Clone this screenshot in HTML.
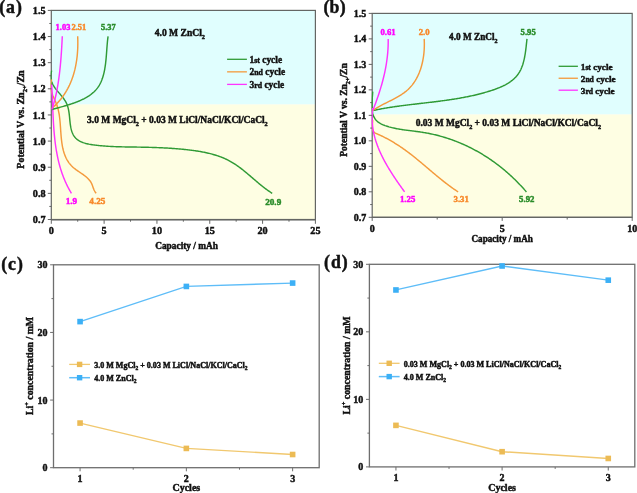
<!DOCTYPE html>
<html><head><meta charset="utf-8"><style>
html,body{margin:0;padding:0;background:#fff;width:637px;height:493px;overflow:hidden}
svg{display:block;font-family:"Liberation Serif",serif;font-weight:bold}
#wrap{width:637px;height:493px;overflow:hidden;will-change:transform}
</style></head><body><div id="wrap">
<svg width="637" height="493" viewBox="0 0 637 493">
<defs>
<clipPath id="clipA"><rect x="50.50" y="10.40" width="264.90" height="209.10"/></clipPath>
<clipPath id="clipB"><rect x="371.40" y="13.40" width="260.80" height="203.90"/></clipPath>
</defs>
<rect x="51.30" y="10.40" width="264.10" height="94.10" fill="#e0fefe"/>
<rect x="51.30" y="104.50" width="264.10" height="115.00" fill="#fefee3"/>
<rect x="51.30" y="10.40" width="264.10" height="209.10" fill="none" stroke="#646664" stroke-width="1.20"/>
<line x1="51.30" y1="219.70" x2="315.40" y2="219.70" stroke="#646664" stroke-width="1.50"/>
<g clip-path="url(#clipA)">
<path d="M51.69,70.60 L51.36,71.77 L51.11,72.90 L50.92,74.00 L50.81,75.07 L50.76,76.10 L50.77,77.11 L50.85,78.10 L50.98,79.05 L51.16,79.99 L51.40,80.90 L51.68,81.79 L52.01,82.66 L52.38,83.51 L52.78,84.34 L53.23,85.16 L53.71,85.97 L54.21,86.76 L54.75,87.55 L55.30,88.32 L55.88,89.09 L56.48,89.84 L57.09,90.60 L57.71,91.35 L58.34,92.10 L58.98,92.85 L59.62,93.59 L60.26,94.35 L60.90,95.10 L61.53,95.86 L62.15,96.63 L62.76,97.40 L63.35,98.19 L63.93,98.98 L64.48,99.79 L65.02,100.61 L65.52,101.45 L65.99,102.30 L66.43,103.18 L66.84,104.07 L67.20,104.98 L67.53,105.92 L67.83,106.87 L68.10,107.83 L68.33,108.82 L68.55,109.81 L68.73,110.82 L68.90,111.83 L69.05,112.86 L69.19,113.89 L69.31,114.93 L69.42,115.97 L69.53,117.01 L69.63,118.06 L69.73,119.10 L69.83,120.14 L69.93,121.17 L70.04,122.20 L70.16,123.22 L70.28,124.23 L70.43,125.23 L70.58,126.22 L70.76,127.20 L70.96,128.16 L71.18,129.10 L71.42,130.03 L71.69,130.93 L71.98,131.81 L72.30,132.67 L72.65,133.50 L73.04,134.31 L73.45,135.09 L73.90,135.84 L74.39,136.56 L74.92,137.24 L75.48,137.89 L76.09,138.50 L76.73,139.08 L77.42,139.63 L78.14,140.14 L78.90,140.62 L79.69,141.06 L80.51,141.48 L81.36,141.87 L82.24,142.24 L83.14,142.58 L84.07,142.89 L85.02,143.18 L85.99,143.45 L86.98,143.70 L87.98,143.93 L88.99,144.15 L90.02,144.34 L91.06,144.53 L92.11,144.70 L93.16,144.85 L94.22,145.00 L95.28,145.13 L96.34,145.26 L97.40,145.38 L98.46,145.50 L99.52,145.60 L100.57,145.71 L101.62,145.80 L102.67,145.90 L103.72,145.98 L104.76,146.06 L105.80,146.14 L106.84,146.21 L107.88,146.28 L108.91,146.35 L109.95,146.40 L110.98,146.46 L112.01,146.51 L113.04,146.56 L114.06,146.60 L115.09,146.65 L116.11,146.68 L117.13,146.72 L118.15,146.75 L119.17,146.78 L120.19,146.81 L121.20,146.84 L122.22,146.86 L123.23,146.88 L124.24,146.90 L125.25,146.92 L126.26,146.94 L127.27,146.96 L128.28,146.97 L129.29,146.99 L130.29,147.00 L131.30,147.01 L132.30,147.03 L133.31,147.04 L134.31,147.05 L135.31,147.07 L136.32,147.08 L137.32,147.10 L138.32,147.11 L139.32,147.13 L140.32,147.15 L141.32,147.17 L142.32,147.19 L143.32,147.21 L144.32,147.23 L145.31,147.25 L146.31,147.27 L147.31,147.30 L148.31,147.32 L149.31,147.35 L150.30,147.37 L151.30,147.40 L152.30,147.43 L153.29,147.46 L154.29,147.50 L155.29,147.53 L156.28,147.57 L157.28,147.61 L158.28,147.65 L159.27,147.69 L160.27,147.73 L161.26,147.78 L162.26,147.82 L163.26,147.87 L164.25,147.92 L165.25,147.97 L166.25,148.03 L167.24,148.09 L168.24,148.15 L169.24,148.21 L170.24,148.27 L171.24,148.34 L172.23,148.41 L173.23,148.48 L174.23,148.55 L175.23,148.63 L176.23,148.70 L177.23,148.79 L178.23,148.87 L179.23,148.96 L180.23,149.05 L181.23,149.14 L182.24,149.23 L183.24,149.33 L184.24,149.43 L185.25,149.54 L186.25,149.64 L187.25,149.75 L188.26,149.87 L189.27,149.99 L190.27,150.11 L191.28,150.23 L192.29,150.36 L193.29,150.49 L194.30,150.63 L195.30,150.78 L196.31,150.92 L197.31,151.08 L198.31,151.24 L199.32,151.40 L200.32,151.57 L201.32,151.75 L202.31,151.93 L203.31,152.12 L204.30,152.32 L205.29,152.52 L206.28,152.73 L207.27,152.95 L208.25,153.17 L209.23,153.41 L210.21,153.65 L211.18,153.90 L212.16,154.16 L213.12,154.43 L214.09,154.71 L215.05,154.99 L216.01,155.29 L216.96,155.60 L217.91,155.91 L218.85,156.24 L219.79,156.58 L220.72,156.93 L221.65,157.28 L222.58,157.65 L223.50,158.04 L224.41,158.43 L225.32,158.83 L226.22,159.25 L227.12,159.68 L228.01,160.12 L228.89,160.58 L229.77,161.04 L230.64,161.52 L231.50,162.02 L232.36,162.53 L233.21,163.04 L234.06,163.58 L234.90,164.12 L235.73,164.67 L236.56,165.23 L237.39,165.81 L238.21,166.39 L239.02,166.98 L239.83,167.58 L240.64,168.19 L241.44,168.80 L242.24,169.42 L243.04,170.05 L243.83,170.69 L244.62,171.33 L245.41,171.97 L246.19,172.62 L246.97,173.27 L247.75,173.93 L248.53,174.59 L249.31,175.25 L250.08,175.91 L250.86,176.58 L251.63,177.24 L252.41,177.91 L253.18,178.58 L253.95,179.24 L254.72,179.91 L255.50,180.57 L256.27,181.23 L257.04,181.89 L257.82,182.55 L258.59,183.20 L259.37,183.85 L260.15,184.49 L260.93,185.13 L261.72,185.77 L262.50,186.40 L263.29,187.02 L264.08,187.63 L264.87,188.24 L265.67,188.84 L266.47,189.43 L267.28,190.02 L268.09,190.59 L268.90,191.15 L269.72,191.71 L270.54,192.25 L271.37,192.78 L272.20,193.30" fill="none" stroke="#2f9a35" stroke-width="1.45" stroke-linejoin="round" stroke-linecap="butt" />
<path d="M51.71,79.60 L51.33,80.70 L51.03,81.79 L50.80,82.85 L50.64,83.90 L50.55,84.93 L50.53,85.94 L50.56,86.94 L50.64,87.93 L50.78,88.90 L50.96,89.86 L51.18,90.81 L51.44,91.76 L51.74,92.69 L52.06,93.62 L52.41,94.54 L52.78,95.46 L53.17,96.37 L53.57,97.28 L53.97,98.19 L54.38,99.10 L54.80,100.01 L55.20,100.92 L55.60,101.84 L55.99,102.75 L56.36,103.68 L56.71,104.61 L57.04,105.55 L57.34,106.49 L57.63,107.44 L57.90,108.39 L58.14,109.35 L58.38,110.32 L58.59,111.29 L58.79,112.27 L58.97,113.25 L59.14,114.24 L59.30,115.23 L59.44,116.23 L59.57,117.22 L59.69,118.23 L59.81,119.23 L59.91,120.24 L60.01,121.26 L60.10,122.27 L60.18,123.29 L60.27,124.31 L60.34,125.33 L60.41,126.36 L60.49,127.39 L60.56,128.41 L60.63,129.44 L60.69,130.47 L60.76,131.50 L60.84,132.52 L60.91,133.55 L60.99,134.58 L61.07,135.60 L61.16,136.62 L61.25,137.64 L61.35,138.65 L61.46,139.66 L61.57,140.67 L61.70,141.67 L61.83,142.67 L61.97,143.66 L62.13,144.65 L62.29,145.63 L62.47,146.61 L62.67,147.57 L62.87,148.53 L63.10,149.49 L63.33,150.43 L63.59,151.37 L63.86,152.29 L64.15,153.21 L64.46,154.12 L64.79,155.01 L65.14,155.90 L65.52,156.78 L65.91,157.64 L66.33,158.49 L66.77,159.33 L67.23,160.16 L67.73,160.97 L68.24,161.77 L68.79,162.56 L69.36,163.33 L69.96,164.08 L70.59,164.83 L71.25,165.55 L71.94,166.26 L72.66,166.95 L73.42,167.63 L74.20,168.29 L75.02,168.93 L75.86,169.57 L76.72,170.19 L77.59,170.80 L78.48,171.41 L79.37,172.02 L80.27,172.63 L81.17,173.23 L82.07,173.84 L82.95,174.46 L83.83,175.09 L84.69,175.73 L85.52,176.38 L86.33,177.05 L87.12,177.73 L87.87,178.44 L88.58,179.16 L89.25,179.92 L89.88,180.70 L90.46,181.51 L90.99,182.35 L91.45,183.22 L91.87,184.13 L92.24,185.07 L92.59,186.02 L92.92,186.98 L93.27,187.94 L93.62,188.90 L94.01,189.84 L94.45,190.76 L94.95,191.65 L95.53,192.50 L96.19,193.30" fill="none" stroke="#f49a3c" stroke-width="1.45" stroke-linejoin="round" stroke-linecap="butt" />
<path d="M51.68,84.60 L51.74,85.61 L51.80,86.61 L51.86,87.62 L51.91,88.62 L51.97,89.63 L52.02,90.64 L52.07,91.65 L52.12,92.66 L52.16,93.67 L52.21,94.68 L52.25,95.70 L52.30,96.71 L52.34,97.73 L52.38,98.74 L52.42,99.76 L52.46,100.77 L52.50,101.79 L52.54,102.81 L52.58,103.83 L52.62,104.85 L52.66,105.86 L52.70,106.88 L52.74,107.90 L52.78,108.92 L52.83,109.94 L52.87,110.96 L52.91,111.99 L52.95,113.01 L53.00,114.03 L53.04,115.05 L53.09,116.07 L53.14,117.09 L53.19,118.11 L53.24,119.13 L53.30,120.15 L53.35,121.17 L53.41,122.19 L53.47,123.21 L53.53,124.23 L53.60,125.25 L53.66,126.27 L53.73,127.29 L53.81,128.31 L53.88,129.32 L53.96,130.34 L54.04,131.36 L54.13,132.37 L54.21,133.39 L54.31,134.40 L54.40,135.41 L54.50,136.43 L54.60,137.44 L54.71,138.45 L54.82,139.46 L54.94,140.47 L55.06,141.48 L55.18,142.48 L55.31,143.49 L55.44,144.49 L55.58,145.50 L55.73,146.50 L55.87,147.50 L56.03,148.50 L56.19,149.50 L56.35,150.50 L56.52,151.49 L56.70,152.49 L56.88,153.48 L57.07,154.47 L57.26,155.46 L57.46,156.45 L57.67,157.43 L57.88,158.42 L58.10,159.40 L58.33,160.38 L58.56,161.36 L58.80,162.34 L59.05,163.31 L59.30,164.29 L59.56,165.26 L59.83,166.23 L60.11,167.20 L60.39,168.16 L60.68,169.13 L60.98,170.09 L61.29,171.05 L61.61,172.00 L61.93,172.96 L62.26,173.91 L62.60,174.86 L62.95,175.81 L63.31,176.75 L63.68,177.70 L64.06,178.64 L64.44,179.57 L64.84,180.51 L65.24,181.44 L65.66,182.37 L66.08,183.30 L66.51,184.22 L66.96,185.14 L67.41,186.06 L67.87,186.97 L68.35,187.89 L68.83,188.80 L69.32,189.70 L69.83,190.61 L70.35,191.51 L70.87,192.40 L71.41,193.30" fill="none" stroke="#ff33ff" stroke-width="1.45" stroke-linejoin="round" stroke-linecap="butt" />
<path d="M51.79,109.58 L52.71,109.31 L53.65,109.05 L54.59,108.78 L55.54,108.52 L56.50,108.25 L57.47,107.98 L58.44,107.71 L59.42,107.44 L60.41,107.17 L61.40,106.89 L62.39,106.61 L63.39,106.33 L64.38,106.04 L65.38,105.75 L66.38,105.45 L67.39,105.15 L68.39,104.84 L69.39,104.53 L70.39,104.21 L71.38,103.88 L72.37,103.54 L73.36,103.20 L74.35,102.85 L75.33,102.49 L76.30,102.12 L77.27,101.75 L78.23,101.36 L79.18,100.97 L80.12,100.56 L81.06,100.14 L81.98,99.71 L82.90,99.27 L83.80,98.82 L84.69,98.35 L85.57,97.88 L86.43,97.38 L87.28,96.88 L88.12,96.36 L88.94,95.83 L89.74,95.28 L90.53,94.72 L91.30,94.14 L92.05,93.54 L92.78,92.93 L93.50,92.31 L94.19,91.66 L94.86,91.00 L95.51,90.32 L96.14,89.62 L96.75,88.90 L97.33,88.16 L97.89,87.41 L98.42,86.63 L98.93,85.83 L99.42,85.02 L99.88,84.19 L100.32,83.34 L100.74,82.48 L101.14,81.60 L101.52,80.70 L101.88,79.79 L102.22,78.87 L102.54,77.93 L102.85,76.98 L103.14,76.02 L103.41,75.05 L103.67,74.07 L103.91,73.08 L104.14,72.08 L104.35,71.07 L104.56,70.05 L104.74,69.03 L104.92,67.99 L105.09,66.96 L105.24,65.91 L105.39,64.87 L105.53,63.82 L105.65,62.76 L105.77,61.70 L105.89,60.64 L105.99,59.58 L106.10,58.52 L106.19,57.46 L106.28,56.40 L106.37,55.34 L106.45,54.28 L106.53,53.23 L106.61,52.18 L106.69,51.13 L106.76,50.08 L106.84,49.04 L106.91,48.01 L106.99,46.99 L107.07,45.97 L107.15,44.95 L107.23,43.95 L107.32,42.96 L107.41,41.97 L107.51,41.00 L107.61,40.03 L107.72,39.08 L107.84,38.14 L107.96,37.22 L108.09,36.30" fill="none" stroke="#2f9a35" stroke-width="1.45" stroke-linejoin="round" stroke-linecap="butt" />
<path d="M51.86,108.48 L52.66,107.77 L53.44,107.06 L54.21,106.34 L54.97,105.61 L55.71,104.87 L56.44,104.13 L57.15,103.37 L57.85,102.61 L58.54,101.84 L59.21,101.07 L59.87,100.28 L60.52,99.49 L61.16,98.69 L61.78,97.89 L62.38,97.08 L62.98,96.26 L63.56,95.43 L64.12,94.60 L64.68,93.76 L65.22,92.91 L65.75,92.05 L66.26,91.19 L66.77,90.33 L67.26,89.46 L67.74,88.58 L68.20,87.69 L68.66,86.80 L69.10,85.91 L69.53,85.01 L69.94,84.10 L70.35,83.18 L70.74,82.27 L71.12,81.34 L71.49,80.41 L71.84,79.48 L72.19,78.54 L72.52,77.60 L72.84,76.65 L73.15,75.70 L73.45,74.74 L73.74,73.78 L74.02,72.82 L74.29,71.85 L74.54,70.87 L74.79,69.90 L75.02,68.91 L75.25,67.93 L75.46,66.94 L75.67,65.95 L75.86,64.96 L76.04,63.96 L76.22,62.96 L76.38,61.96 L76.54,60.95 L76.69,59.94 L76.82,58.93 L76.95,57.92 L77.07,56.90 L77.18,55.88 L77.28,54.86 L77.37,53.84 L77.45,52.82 L77.52,51.79 L77.59,50.76 L77.65,49.74 L77.70,48.71 L77.74,47.68 L77.77,46.64 L77.80,45.61 L77.81,44.58 L77.82,43.54 L77.82,42.51 L77.82,41.47 L77.81,40.44 L77.79,39.40 L77.76,38.37 L77.72,37.33 L77.68,36.30" fill="none" stroke="#f49a3c" stroke-width="1.45" stroke-linejoin="round" stroke-linecap="butt" />
<path d="M51.89,109.55 L52.18,108.70 L52.47,107.83 L52.75,106.96 L53.03,106.08 L53.30,105.20 L53.57,104.31 L53.83,103.41 L54.08,102.50 L54.33,101.59 L54.58,100.67 L54.82,99.75 L55.05,98.81 L55.28,97.88 L55.50,96.94 L55.72,95.99 L55.94,95.03 L56.14,94.07 L56.35,93.11 L56.55,92.14 L56.74,91.17 L56.93,90.19 L57.12,89.21 L57.30,88.22 L57.48,87.23 L57.65,86.24 L57.82,85.24 L57.98,84.24 L58.14,83.23 L58.30,82.22 L58.45,81.21 L58.60,80.20 L58.74,79.18 L58.88,78.16 L59.02,77.14 L59.15,76.12 L59.28,75.09 L59.41,74.06 L59.53,73.04 L59.65,72.01 L59.77,70.97 L59.88,69.94 L59.99,68.91 L60.10,67.87 L60.20,66.84 L60.31,65.80 L60.40,64.76 L60.50,63.73 L60.59,62.69 L60.68,61.65 L60.77,60.62 L60.86,59.58 L60.94,58.55 L61.02,57.51 L61.10,56.48 L61.17,55.45 L61.25,54.42 L61.32,53.39 L61.39,52.36 L61.46,51.34 L61.53,50.32 L61.59,49.30 L61.65,48.28 L61.71,47.26 L61.77,46.25 L61.83,45.24 L61.89,44.23 L61.94,43.23 L62.00,42.23 L62.05,41.23 L62.10,40.24 L62.15,39.25 L62.20,38.26 L62.25,37.28 L62.30,36.30" fill="none" stroke="#ff33ff" stroke-width="1.45" stroke-linejoin="round" stroke-linecap="butt" />
</g>
<line x1="47.80" y1="219.50" x2="51.30" y2="219.50" stroke="#646664" stroke-width="1.00"/>
<text x="45.60" y="223.10" font-size="10.20" text-anchor="end" fill="#111" stroke="#111" stroke-width="0.45" >0.7</text>
<line x1="49.30" y1="206.43" x2="51.30" y2="206.43" stroke="#646664" stroke-width="1.00"/>
<line x1="47.80" y1="193.36" x2="51.30" y2="193.36" stroke="#646664" stroke-width="1.00"/>
<text x="45.60" y="196.96" font-size="10.20" text-anchor="end" fill="#111" stroke="#111" stroke-width="0.45" >0.8</text>
<line x1="49.30" y1="180.29" x2="51.30" y2="180.29" stroke="#646664" stroke-width="1.00"/>
<line x1="47.80" y1="167.23" x2="51.30" y2="167.23" stroke="#646664" stroke-width="1.00"/>
<text x="45.60" y="170.83" font-size="10.20" text-anchor="end" fill="#111" stroke="#111" stroke-width="0.45" >0.9</text>
<line x1="49.30" y1="154.16" x2="51.30" y2="154.16" stroke="#646664" stroke-width="1.00"/>
<line x1="47.80" y1="141.09" x2="51.30" y2="141.09" stroke="#646664" stroke-width="1.00"/>
<text x="45.60" y="144.69" font-size="10.20" text-anchor="end" fill="#111" stroke="#111" stroke-width="0.45" >1.0</text>
<line x1="49.30" y1="128.02" x2="51.30" y2="128.02" stroke="#646664" stroke-width="1.00"/>
<line x1="47.80" y1="114.95" x2="51.30" y2="114.95" stroke="#646664" stroke-width="1.00"/>
<text x="45.60" y="118.55" font-size="10.20" text-anchor="end" fill="#111" stroke="#111" stroke-width="0.45" >1.1</text>
<line x1="49.30" y1="101.88" x2="51.30" y2="101.88" stroke="#646664" stroke-width="1.00"/>
<line x1="47.80" y1="88.81" x2="51.30" y2="88.81" stroke="#646664" stroke-width="1.00"/>
<text x="45.60" y="92.41" font-size="10.20" text-anchor="end" fill="#111" stroke="#111" stroke-width="0.45" >1.2</text>
<line x1="49.30" y1="75.74" x2="51.30" y2="75.74" stroke="#646664" stroke-width="1.00"/>
<line x1="47.80" y1="62.67" x2="51.30" y2="62.67" stroke="#646664" stroke-width="1.00"/>
<text x="45.60" y="66.27" font-size="10.20" text-anchor="end" fill="#111" stroke="#111" stroke-width="0.45" >1.3</text>
<line x1="49.30" y1="49.61" x2="51.30" y2="49.61" stroke="#646664" stroke-width="1.00"/>
<line x1="47.80" y1="36.54" x2="51.30" y2="36.54" stroke="#646664" stroke-width="1.00"/>
<text x="45.60" y="40.14" font-size="10.20" text-anchor="end" fill="#111" stroke="#111" stroke-width="0.45" >1.4</text>
<line x1="49.30" y1="23.47" x2="51.30" y2="23.47" stroke="#646664" stroke-width="1.00"/>
<line x1="47.80" y1="10.40" x2="51.30" y2="10.40" stroke="#646664" stroke-width="1.00"/>
<text x="45.60" y="14.00" font-size="10.20" text-anchor="end" fill="#111" stroke="#111" stroke-width="0.45" >1.5</text>
<line x1="51.30" y1="219.50" x2="51.30" y2="223.80" stroke="#646664" stroke-width="1.00"/>
<text x="51.30" y="233.80" font-size="10.20" text-anchor="middle" fill="#111" stroke="#111" stroke-width="0.45" >0</text>
<line x1="77.71" y1="219.50" x2="77.71" y2="221.70" stroke="#646664" stroke-width="1.00"/>
<line x1="104.12" y1="219.50" x2="104.12" y2="223.80" stroke="#646664" stroke-width="1.00"/>
<text x="104.12" y="233.80" font-size="10.20" text-anchor="middle" fill="#111" stroke="#111" stroke-width="0.45" >5</text>
<line x1="130.53" y1="219.50" x2="130.53" y2="221.70" stroke="#646664" stroke-width="1.00"/>
<line x1="156.94" y1="219.50" x2="156.94" y2="223.80" stroke="#646664" stroke-width="1.00"/>
<text x="156.94" y="233.80" font-size="10.20" text-anchor="middle" fill="#111" stroke="#111" stroke-width="0.45" >10</text>
<line x1="183.35" y1="219.50" x2="183.35" y2="221.70" stroke="#646664" stroke-width="1.00"/>
<line x1="209.76" y1="219.50" x2="209.76" y2="223.80" stroke="#646664" stroke-width="1.00"/>
<text x="209.76" y="233.80" font-size="10.20" text-anchor="middle" fill="#111" stroke="#111" stroke-width="0.45" >15</text>
<line x1="236.17" y1="219.50" x2="236.17" y2="221.70" stroke="#646664" stroke-width="1.00"/>
<line x1="262.58" y1="219.50" x2="262.58" y2="223.80" stroke="#646664" stroke-width="1.00"/>
<text x="262.58" y="233.80" font-size="10.20" text-anchor="middle" fill="#111" stroke="#111" stroke-width="0.45" >20</text>
<line x1="288.99" y1="219.50" x2="288.99" y2="221.70" stroke="#646664" stroke-width="1.00"/>
<line x1="315.40" y1="219.50" x2="315.40" y2="223.80" stroke="#646664" stroke-width="1.00"/>
<text x="315.40" y="233.80" font-size="10.20" text-anchor="middle" fill="#111" stroke="#111" stroke-width="0.45" >25</text>
<text x="63.00" y="29.80" font-size="8.45" text-anchor="middle" fill="#ff00ff" stroke="#ff00ff" stroke-width="0.45" >1.03</text>
<text x="78.90" y="29.80" font-size="8.45" text-anchor="middle" fill="#f8892a" stroke="#f8892a" stroke-width="0.45" >2.51</text>
<text x="108.40" y="29.80" font-size="8.45" text-anchor="middle" fill="#2a8c2a" stroke="#2a8c2a" stroke-width="0.45" >5.37</text>
<text x="71.40" y="203.60" font-size="9.20" text-anchor="middle" fill="#ff00ff" stroke="#ff00ff" stroke-width="0.45" >1.9</text>
<text x="97.40" y="203.60" font-size="9.20" text-anchor="middle" fill="#f8892a" stroke="#f8892a" stroke-width="0.45" >4.25</text>
<text x="273.20" y="205.20" font-size="9.20" text-anchor="middle" fill="#2a8c2a" stroke="#2a8c2a" stroke-width="0.45" >20.9</text>
<text transform="translate(154.70,36.30) scale(1,1.100)" font-size="9.60" text-anchor="start" fill="#111" stroke="#111" stroke-width="0.45" >4.0 M ZnCl<tspan font-size="6.20" dy="2.30">2</tspan></text>
<text transform="translate(87.10,123.30) scale(1,1.060)" font-size="9.50" text-anchor="start" fill="#111" stroke="#111" stroke-width="0.45" >3.0 M MgCl<tspan font-size="6.20" dy="2.30">2</tspan><tspan font-size="9.50" dy="-2.30"> + 0.03 M LiCl/NaCl/KCl/CaCl</tspan><tspan font-size="6.20" dy="2.30">2</tspan></text>
<line x1="227.10" y1="59.30" x2="246.90" y2="59.30" stroke="#2f9a35" stroke-width="1.30"/>
<text x="249.60" y="62.60" font-size="9.40" text-anchor="start" fill="#111" stroke="#111" stroke-width="0.45" >1<tspan font-size="7.8">st</tspan> cycle</text>
<line x1="227.10" y1="71.85" x2="246.90" y2="71.85" stroke="#f49a3c" stroke-width="1.30"/>
<text x="249.60" y="75.15" font-size="9.40" text-anchor="start" fill="#111" stroke="#111" stroke-width="0.45" >2<tspan font-size="7.8">nd</tspan> cycle</text>
<line x1="227.10" y1="84.40" x2="246.90" y2="84.40" stroke="#ff33ff" stroke-width="1.30"/>
<text x="249.60" y="87.70" font-size="9.40" text-anchor="start" fill="#111" stroke="#111" stroke-width="0.45" >3<tspan font-size="7.8">rd</tspan> cycle</text>
<text transform="translate(186.60,249.10) scale(1,1.080)" font-size="9.35" text-anchor="middle" fill="#111" stroke="#111" stroke-width="0.45" >Capacity / mAh</text>
<text transform="translate(24.2,119.5) rotate(-90)" font-size="10" text-anchor="middle" fill="#111" stroke="#111" stroke-width="0.45">Potential V vs. Zn<tspan font-size="6.5" dy="2.8">2+</tspan><tspan dy="-2.8">/Zn</tspan></text>
<text x="-0.80" y="12.70" font-size="17.80" text-anchor="start" fill="#111" stroke="#111" stroke-width="0.45" letter-spacing="1">(a)</text>
<rect x="372.20" y="13.40" width="260.00" height="101.10" fill="#e0fefe"/>
<rect x="372.20" y="114.50" width="260.00" height="102.80" fill="#fefee3"/>
<rect x="372.20" y="13.40" width="260.00" height="203.90" fill="none" stroke="#646664" stroke-width="1.20"/>
<line x1="372.20" y1="217.40" x2="632.20" y2="217.40" stroke="#646664" stroke-width="1.40"/>
<g clip-path="url(#clipB)">
<path d="M372.72,91.59 L372.66,92.57 L372.59,93.57 L372.52,94.59 L372.44,95.61 L372.36,96.65 L372.29,97.70 L372.21,98.75 L372.15,99.81 L372.08,100.87 L372.03,101.94 L371.99,103.00 L371.96,104.06 L371.95,105.11 L371.96,106.16 L371.98,107.20 L372.03,108.23 L372.11,109.24 L372.20,110.24 L372.33,111.22 L372.49,112.19 L372.68,113.13 L372.91,114.05 L373.17,114.94 L373.48,115.81 L373.82,116.65 L374.21,117.46 L374.64,118.23 L375.12,118.97 L375.65,119.67 L376.24,120.34 L376.87,120.96 L377.54,121.56 L378.26,122.12 L379.01,122.65 L379.80,123.14 L380.62,123.61 L381.47,124.06 L382.34,124.48 L383.24,124.87 L384.15,125.24 L385.08,125.60 L386.03,125.93 L386.99,126.25 L387.95,126.55 L388.91,126.84 L389.89,127.11 L390.86,127.37 L391.84,127.62 L392.82,127.85 L393.81,128.08 L394.80,128.29 L395.80,128.50 L396.80,128.69 L397.80,128.88 L398.80,129.06 L399.81,129.23 L400.82,129.39 L401.83,129.55 L402.84,129.70 L403.85,129.85 L404.87,129.99 L405.89,130.12 L406.91,130.26 L407.93,130.39 L408.95,130.52 L409.97,130.64 L410.99,130.77 L412.01,130.90 L413.03,131.02 L414.05,131.15 L415.08,131.28 L416.10,131.41 L417.12,131.54 L418.14,131.67 L419.15,131.81 L420.17,131.96 L421.18,132.11 L422.20,132.26 L423.21,132.42 L424.22,132.59 L425.22,132.76 L426.23,132.94 L427.23,133.12 L428.23,133.31 L429.23,133.51 L430.23,133.71 L431.22,133.92 L432.21,134.14 L433.20,134.36 L434.19,134.59 L435.18,134.82 L436.16,135.06 L437.14,135.31 L438.12,135.56 L439.10,135.82 L440.07,136.08 L441.04,136.35 L442.01,136.62 L442.98,136.90 L443.95,137.19 L444.91,137.48 L445.87,137.78 L446.83,138.09 L447.78,138.40 L448.74,138.71 L449.69,139.03 L450.64,139.36 L451.58,139.69 L452.53,140.03 L453.47,140.37 L454.41,140.72 L455.35,141.08 L456.28,141.44 L457.21,141.81 L458.14,142.18 L459.07,142.56 L459.99,142.94 L460.91,143.33 L461.83,143.72 L462.75,144.12 L463.66,144.52 L464.57,144.93 L465.48,145.35 L466.39,145.77 L467.29,146.20 L468.19,146.63 L469.09,147.06 L469.98,147.51 L470.88,147.95 L471.76,148.40 L472.65,148.86 L473.54,149.33 L474.42,149.79 L475.30,150.27 L476.17,150.74 L477.04,151.23 L477.91,151.72 L478.78,152.21 L479.65,152.71 L480.51,153.21 L481.37,153.72 L482.22,154.23 L483.07,154.75 L483.92,155.28 L484.77,155.80 L485.62,156.34 L486.46,156.88 L487.29,157.42 L488.13,157.97 L488.96,158.52 L489.79,159.08 L490.62,159.64 L491.44,160.21 L492.26,160.78 L493.08,161.36 L493.89,161.94 L494.70,162.52 L495.51,163.12 L496.31,163.71 L497.11,164.31 L497.91,164.92 L498.70,165.53 L499.50,166.14 L500.28,166.76 L501.07,167.38 L501.85,168.01 L502.63,168.64 L503.41,169.28 L504.18,169.92 L504.95,170.57 L505.71,171.22 L506.47,171.87 L507.23,172.53 L507.99,173.19 L508.74,173.86 L509.49,174.53 L510.23,175.21 L510.98,175.89 L511.71,176.57 L512.45,177.26 L513.18,177.95 L513.91,178.65 L514.63,179.35 L515.35,180.06 L516.07,180.77 L516.79,181.48 L517.50,182.20 L518.20,182.92 L518.91,183.65 L519.61,184.38 L520.30,185.12 L521.00,185.85 L521.68,186.60 L522.37,187.34 L523.05,188.09 L523.73,188.85 L524.40,189.61 L525.07,190.37 L525.74,191.13 L526.41,191.90" fill="none" stroke="#2f9a35" stroke-width="1.45" stroke-linejoin="round" stroke-linecap="butt" />
<path d="M372.70,120.00 L372.65,121.02 L372.58,122.09 L372.49,123.19 L372.41,124.31 L372.35,125.44 L372.32,126.54 L372.36,127.62 L372.46,128.65 L372.65,129.63 L372.95,130.52 L373.37,131.32 L373.92,132.01 L374.61,132.59 L375.41,133.08 L376.29,133.51 L377.20,133.91 L378.12,134.32 L379.04,134.73 L379.95,135.14 L380.86,135.57 L381.77,136.00 L382.67,136.44 L383.57,136.88 L384.47,137.34 L385.36,137.80 L386.25,138.26 L387.14,138.73 L388.02,139.21 L388.90,139.70 L389.78,140.19 L390.65,140.68 L391.52,141.19 L392.39,141.70 L393.25,142.21 L394.11,142.73 L394.97,143.26 L395.82,143.79 L396.67,144.32 L397.52,144.86 L398.36,145.41 L399.20,145.96 L400.04,146.52 L400.87,147.08 L401.70,147.65 L402.53,148.22 L403.36,148.80 L404.18,149.38 L405.00,149.96 L405.81,150.55 L406.63,151.15 L407.44,151.75 L408.24,152.35 L409.05,152.95 L409.85,153.56 L410.65,154.18 L411.44,154.79 L412.24,155.41 L413.03,156.04 L413.82,156.66 L414.60,157.29 L415.39,157.92 L416.17,158.56 L416.95,159.19 L417.73,159.83 L418.51,160.47 L419.29,161.11 L420.07,161.76 L420.84,162.41 L421.61,163.05 L422.39,163.70 L423.16,164.35 L423.93,165.00 L424.70,165.65 L425.47,166.31 L426.24,166.96 L427.01,167.61 L427.78,168.27 L428.55,168.92 L429.32,169.58 L430.09,170.23 L430.87,170.89 L431.64,171.54 L432.41,172.19 L433.18,172.84 L433.95,173.50 L434.73,174.15 L435.50,174.79 L436.28,175.44 L437.06,176.09 L437.84,176.73 L438.62,177.38 L439.40,178.02 L440.19,178.66 L440.97,179.29 L441.76,179.93 L442.55,180.56 L443.34,181.19 L444.14,181.81 L444.93,182.44 L445.73,183.06 L446.54,183.67 L447.34,184.29 L448.15,184.90 L448.96,185.50 L449.77,186.11 L450.59,186.71 L451.41,187.30 L452.24,187.89 L453.06,188.48 L453.89,189.06 L454.73,189.63 L455.57,190.21 L456.41,190.77 L457.26,191.33 L458.11,191.89" fill="none" stroke="#f49a3c" stroke-width="1.45" stroke-linejoin="round" stroke-linecap="butt" />
<path d="M372.72,108.00 L372.58,109.04 L372.46,110.08 L372.35,111.12 L372.26,112.15 L372.18,113.19 L372.13,114.22 L372.08,115.24 L372.06,116.27 L372.04,117.29 L372.05,118.30 L372.06,119.32 L372.10,120.33 L372.14,121.34 L372.20,122.35 L372.28,123.35 L372.37,124.35 L372.47,125.35 L372.59,126.35 L372.72,127.34 L372.86,128.33 L373.02,129.32 L373.19,130.30 L373.37,131.29 L373.56,132.27 L373.77,133.24 L373.99,134.22 L374.22,135.19 L374.46,136.16 L374.71,137.12 L374.98,138.08 L375.25,139.05 L375.54,140.00 L375.83,140.96 L376.14,141.91 L376.46,142.86 L376.79,143.81 L377.12,144.75 L377.47,145.69 L377.83,146.63 L378.19,147.57 L378.57,148.50 L378.95,149.43 L379.34,150.36 L379.74,151.28 L380.15,152.21 L380.57,153.13 L381.00,154.05 L381.43,154.96 L381.87,155.87 L382.32,156.78 L382.77,157.69 L383.23,158.59 L383.70,159.50 L384.18,160.40 L384.66,161.29 L385.15,162.19 L385.64,163.08 L386.14,163.97 L386.65,164.85 L387.16,165.74 L387.67,166.62 L388.19,167.50 L388.72,168.38 L389.25,169.25 L389.78,170.12 L390.32,170.99 L390.86,171.86 L391.41,172.72 L391.96,173.58 L392.51,174.44 L393.07,175.30 L393.63,176.15 L394.19,177.00 L394.76,177.85 L395.33,178.70 L395.90,179.54 L396.47,180.38 L397.04,181.22 L397.62,182.06 L398.20,182.89 L398.78,183.72 L399.36,184.55 L399.94,185.38 L400.52,186.20 L401.10,187.02 L401.68,187.84 L402.27,188.66 L402.85,189.47 L403.43,190.29 L404.01,191.10 L404.59,191.90" fill="none" stroke="#ff33ff" stroke-width="1.45" stroke-linejoin="round" stroke-linecap="butt" />
<path d="M372.80,110.58 L373.77,110.37 L374.75,110.17 L375.72,109.96 L376.70,109.77 L377.68,109.57 L378.65,109.38 L379.63,109.19 L380.62,109.01 L381.60,108.83 L382.58,108.65 L383.56,108.48 L384.55,108.31 L385.53,108.14 L386.52,107.97 L387.51,107.81 L388.50,107.65 L389.49,107.49 L390.48,107.33 L391.47,107.18 L392.46,107.03 L393.45,106.88 L394.44,106.74 L395.44,106.59 L396.43,106.45 L397.43,106.31 L398.42,106.17 L399.42,106.04 L400.42,105.90 L401.41,105.77 L402.41,105.64 L403.41,105.51 L404.41,105.38 L405.41,105.25 L406.41,105.13 L407.41,105.00 L408.41,104.88 L409.41,104.76 L410.41,104.63 L411.42,104.51 L412.42,104.39 L413.42,104.27 L414.43,104.16 L415.43,104.04 L416.43,103.92 L417.44,103.80 L418.44,103.69 L419.45,103.57 L420.45,103.45 L421.46,103.34 L422.46,103.22 L423.47,103.10 L424.47,102.99 L425.48,102.87 L426.48,102.75 L427.49,102.64 L428.49,102.52 L429.50,102.40 L430.50,102.28 L431.51,102.16 L432.51,102.04 L433.52,101.92 L434.53,101.79 L435.53,101.67 L436.54,101.55 L437.54,101.42 L438.54,101.29 L439.55,101.16 L440.55,101.03 L441.56,100.90 L442.56,100.77 L443.56,100.63 L444.57,100.50 L445.57,100.36 L446.57,100.22 L447.57,100.08 L448.58,99.93 L449.58,99.79 L450.58,99.64 L451.58,99.49 L452.58,99.33 L453.58,99.18 L454.58,99.02 L455.57,98.86 L456.57,98.69 L457.57,98.53 L458.56,98.36 L459.56,98.18 L460.56,98.01 L461.55,97.83 L462.54,97.65 L463.54,97.46 L464.53,97.28 L465.52,97.08 L466.51,96.89 L467.50,96.69 L468.49,96.49 L469.48,96.28 L470.47,96.07 L471.46,95.86 L472.44,95.64 L473.43,95.42 L474.41,95.19 L475.39,94.96 L476.38,94.73 L477.36,94.49 L478.34,94.25 L479.32,94.00 L480.29,93.75 L481.27,93.49 L482.25,93.23 L483.22,92.96 L484.19,92.69 L485.17,92.42 L486.14,92.13 L487.11,91.85 L488.08,91.56 L489.05,91.26 L490.01,90.96 L490.98,90.65 L491.94,90.33 L492.90,90.01 L493.86,89.69 L494.81,89.35 L495.76,89.01 L496.71,88.66 L497.65,88.30 L498.58,87.93 L499.50,87.55 L500.42,87.16 L501.33,86.76 L502.23,86.35 L503.13,85.93 L504.01,85.49 L504.88,85.05 L505.74,84.59 L506.59,84.11 L507.42,83.62 L508.25,83.12 L509.06,82.60 L509.85,82.06 L510.63,81.51 L511.39,80.94 L512.14,80.36 L512.87,79.76 L513.58,79.14 L514.28,78.50 L514.95,77.84 L515.61,77.16 L516.24,76.46 L516.86,75.74 L517.45,75.00 L518.02,74.24 L518.57,73.45 L519.10,72.65 L519.60,71.82 L520.08,70.96 L520.53,70.09 L520.96,69.19 L521.36,68.27 L521.75,67.34 L522.12,66.38 L522.46,65.41 L522.79,64.43 L523.09,63.43 L523.38,62.42 L523.65,61.40 L523.91,60.37 L524.15,59.33 L524.38,58.29 L524.59,57.24 L524.79,56.18 L524.98,55.13 L525.15,54.07 L525.32,53.01 L525.48,51.95 L525.62,50.89 L525.76,49.84 L525.89,48.79 L526.02,47.75 L526.14,46.72 L526.25,45.70 L526.36,44.68 L526.47,43.68 L526.58,42.69 L526.68,41.72 L526.78,40.76 L526.88,39.82 L526.99,38.89" fill="none" stroke="#2f9a35" stroke-width="1.45" stroke-linejoin="round" stroke-linecap="butt" />
<path d="M372.77,110.55 L373.57,109.99 L374.38,109.44 L375.20,108.91 L376.04,108.38 L376.89,107.87 L377.75,107.36 L378.61,106.86 L379.49,106.37 L380.37,105.88 L381.26,105.40 L382.16,104.92 L383.06,104.45 L383.97,103.98 L384.88,103.52 L385.80,103.05 L386.72,102.59 L387.63,102.13 L388.55,101.67 L389.47,101.21 L390.39,100.74 L391.31,100.28 L392.22,99.81 L393.14,99.34 L394.04,98.86 L394.95,98.38 L395.84,97.89 L396.74,97.40 L397.62,96.90 L398.50,96.39 L399.37,95.87 L400.22,95.35 L401.07,94.81 L401.91,94.26 L402.74,93.70 L403.55,93.13 L404.35,92.55 L405.14,91.95 L405.91,91.34 L406.67,90.71 L407.41,90.07 L408.13,89.41 L408.83,88.73 L409.52,88.04 L410.19,87.33 L410.84,86.60 L411.48,85.86 L412.10,85.11 L412.70,84.34 L413.29,83.56 L413.85,82.76 L414.41,81.95 L414.94,81.12 L415.46,80.29 L415.96,79.44 L416.45,78.58 L416.92,77.71 L417.38,76.82 L417.82,75.93 L418.24,75.03 L418.65,74.11 L419.04,73.19 L419.42,72.26 L419.78,71.32 L420.13,70.37 L420.47,69.41 L420.78,68.44 L421.09,67.47 L421.38,66.49 L421.65,65.51 L421.91,64.52 L422.16,63.52 L422.39,62.52 L422.61,61.51 L422.82,60.50 L423.01,59.48 L423.19,58.46 L423.36,57.44 L423.51,56.41 L423.65,55.38 L423.77,54.35 L423.89,53.32 L423.99,52.29 L424.07,51.25 L424.15,50.22 L424.21,49.18 L424.26,48.14 L424.30,47.11 L424.33,46.07 L424.34,45.04 L424.34,44.01 L424.34,42.98 L424.32,41.95 L424.28,40.93 L424.24,39.91 L424.19,38.89" fill="none" stroke="#f49a3c" stroke-width="1.45" stroke-linejoin="round" stroke-linecap="butt" />
<path d="M372.78,110.59 L373.15,109.64 L373.52,108.68 L373.89,107.72 L374.25,106.77 L374.62,105.81 L374.98,104.85 L375.33,103.88 L375.69,102.92 L376.04,101.96 L376.38,100.99 L376.73,100.03 L377.07,99.06 L377.40,98.09 L377.74,97.13 L378.07,96.16 L378.39,95.18 L378.72,94.21 L379.04,93.24 L379.35,92.27 L379.66,91.29 L379.97,90.31 L380.27,89.34 L380.57,88.36 L380.86,87.38 L381.15,86.40 L381.44,85.42 L381.72,84.43 L381.99,83.45 L382.26,82.46 L382.53,81.48 L382.79,80.49 L383.05,79.50 L383.30,78.51 L383.54,77.52 L383.78,76.53 L384.02,75.53 L384.25,74.54 L384.47,73.54 L384.69,72.55 L384.90,71.55 L385.11,70.55 L385.31,69.55 L385.50,68.54 L385.69,67.54 L385.88,66.54 L386.05,65.53 L386.22,64.52 L386.39,63.51 L386.54,62.50 L386.69,61.49 L386.84,60.48 L386.98,59.47 L387.11,58.45 L387.23,57.43 L387.35,56.42 L387.46,55.40 L387.56,54.38 L387.66,53.35 L387.75,52.33 L387.83,51.31 L387.90,50.28 L387.97,49.25 L388.02,48.22 L388.07,47.19 L388.12,46.16 L388.15,45.13 L388.18,44.09 L388.20,43.06 L388.21,42.02 L388.21,40.98 L388.21,39.94 L388.19,38.90" fill="none" stroke="#ff33ff" stroke-width="1.45" stroke-linejoin="round" stroke-linecap="butt" />
</g>
<line x1="368.70" y1="217.30" x2="372.20" y2="217.30" stroke="#646664" stroke-width="1.00"/>
<text x="366.30" y="220.80" font-size="10.00" text-anchor="end" fill="#111" stroke="#111" stroke-width="0.45" >0.7</text>
<line x1="370.20" y1="204.56" x2="372.20" y2="204.56" stroke="#646664" stroke-width="1.00"/>
<line x1="368.70" y1="191.81" x2="372.20" y2="191.81" stroke="#646664" stroke-width="1.00"/>
<text x="366.30" y="195.31" font-size="10.00" text-anchor="end" fill="#111" stroke="#111" stroke-width="0.45" >0.8</text>
<line x1="370.20" y1="179.07" x2="372.20" y2="179.07" stroke="#646664" stroke-width="1.00"/>
<line x1="368.70" y1="166.33" x2="372.20" y2="166.33" stroke="#646664" stroke-width="1.00"/>
<text x="366.30" y="169.83" font-size="10.00" text-anchor="end" fill="#111" stroke="#111" stroke-width="0.45" >0.9</text>
<line x1="370.20" y1="153.58" x2="372.20" y2="153.58" stroke="#646664" stroke-width="1.00"/>
<line x1="368.70" y1="140.84" x2="372.20" y2="140.84" stroke="#646664" stroke-width="1.00"/>
<text x="366.30" y="144.34" font-size="10.00" text-anchor="end" fill="#111" stroke="#111" stroke-width="0.45" >1.0</text>
<line x1="370.20" y1="128.09" x2="372.20" y2="128.09" stroke="#646664" stroke-width="1.00"/>
<line x1="368.70" y1="115.35" x2="372.20" y2="115.35" stroke="#646664" stroke-width="1.00"/>
<text x="366.30" y="118.85" font-size="10.00" text-anchor="end" fill="#111" stroke="#111" stroke-width="0.45" >1.1</text>
<line x1="370.20" y1="102.61" x2="372.20" y2="102.61" stroke="#646664" stroke-width="1.00"/>
<line x1="368.70" y1="89.86" x2="372.20" y2="89.86" stroke="#646664" stroke-width="1.00"/>
<text x="366.30" y="93.36" font-size="10.00" text-anchor="end" fill="#111" stroke="#111" stroke-width="0.45" >1.2</text>
<line x1="370.20" y1="77.12" x2="372.20" y2="77.12" stroke="#646664" stroke-width="1.00"/>
<line x1="368.70" y1="64.38" x2="372.20" y2="64.38" stroke="#646664" stroke-width="1.00"/>
<text x="366.30" y="67.88" font-size="10.00" text-anchor="end" fill="#111" stroke="#111" stroke-width="0.45" >1.3</text>
<line x1="370.20" y1="51.63" x2="372.20" y2="51.63" stroke="#646664" stroke-width="1.00"/>
<line x1="368.70" y1="38.89" x2="372.20" y2="38.89" stroke="#646664" stroke-width="1.00"/>
<text x="366.30" y="42.39" font-size="10.00" text-anchor="end" fill="#111" stroke="#111" stroke-width="0.45" >1.4</text>
<line x1="370.20" y1="26.14" x2="372.20" y2="26.14" stroke="#646664" stroke-width="1.00"/>
<line x1="368.70" y1="13.40" x2="372.20" y2="13.40" stroke="#646664" stroke-width="1.00"/>
<text x="366.30" y="16.90" font-size="10.00" text-anchor="end" fill="#111" stroke="#111" stroke-width="0.45" >1.5</text>
<line x1="372.20" y1="217.30" x2="372.20" y2="220.90" stroke="#646664" stroke-width="1.00"/>
<text x="372.20" y="231.70" font-size="10.00" text-anchor="middle" fill="#111" stroke="#111" stroke-width="0.45" >0</text>
<line x1="437.20" y1="217.30" x2="437.20" y2="219.50" stroke="#646664" stroke-width="1.00"/>
<line x1="502.20" y1="217.30" x2="502.20" y2="220.90" stroke="#646664" stroke-width="1.00"/>
<text x="502.20" y="231.70" font-size="10.00" text-anchor="middle" fill="#111" stroke="#111" stroke-width="0.45" >5</text>
<line x1="567.20" y1="217.30" x2="567.20" y2="219.50" stroke="#646664" stroke-width="1.00"/>
<line x1="632.20" y1="217.30" x2="632.20" y2="220.90" stroke="#646664" stroke-width="1.00"/>
<text x="632.20" y="231.70" font-size="10.00" text-anchor="middle" fill="#111" stroke="#111" stroke-width="0.45" >10</text>
<text x="388.10" y="34.60" font-size="8.70" text-anchor="middle" fill="#ff00ff" stroke="#ff00ff" stroke-width="0.45" >0.61</text>
<text x="424.10" y="34.60" font-size="8.70" text-anchor="middle" fill="#f8892a" stroke="#f8892a" stroke-width="0.45" >2.0</text>
<text x="528.20" y="34.60" font-size="8.70" text-anchor="middle" fill="#2a8c2a" stroke="#2a8c2a" stroke-width="0.45" >5.95</text>
<text x="407.60" y="202.00" font-size="8.80" text-anchor="middle" fill="#ff00ff" stroke="#ff00ff" stroke-width="0.45" >1.25</text>
<text x="461.20" y="202.00" font-size="8.80" text-anchor="middle" fill="#f8892a" stroke="#f8892a" stroke-width="0.45" >3.31</text>
<text x="526.80" y="202.00" font-size="8.80" text-anchor="middle" fill="#2a8c2a" stroke="#2a8c2a" stroke-width="0.45" >5.92</text>
<text transform="translate(449.10,40.10) scale(1,1.080)" font-size="9.25" text-anchor="start" fill="#111" stroke="#111" stroke-width="0.45" >4.0 M ZnCl<tspan font-size="6.00" dy="2.30">2</tspan></text>
<text transform="translate(415.70,126.30) scale(1,1.060)" font-size="9.50" text-anchor="start" fill="#111" stroke="#111" stroke-width="0.45" >0.03 M MgCl<tspan font-size="6.20" dy="2.30">2</tspan><tspan font-size="9.50" dy="-2.30"> + 0.03 M LiCl/NaCl/KCl/CaCl</tspan><tspan font-size="6.20" dy="2.30">2</tspan></text>
<line x1="558.60" y1="66.30" x2="577.90" y2="66.30" stroke="#2f9a35" stroke-width="1.30"/>
<text x="580.80" y="69.60" font-size="9.20" text-anchor="start" fill="#111" stroke="#111" stroke-width="0.45" >1<tspan font-size="7.6">st</tspan> cycle</text>
<line x1="558.60" y1="78.25" x2="577.90" y2="78.25" stroke="#f49a3c" stroke-width="1.30"/>
<text x="580.80" y="81.55" font-size="9.20" text-anchor="start" fill="#111" stroke="#111" stroke-width="0.45" >2<tspan font-size="7.6">nd</tspan> cycle</text>
<line x1="558.60" y1="90.20" x2="577.90" y2="90.20" stroke="#ff33ff" stroke-width="1.30"/>
<text x="580.80" y="93.50" font-size="9.20" text-anchor="start" fill="#111" stroke="#111" stroke-width="0.45" >3<tspan font-size="7.6">rd</tspan> cycle</text>
<text transform="translate(502.20,242.30) scale(1,1.080)" font-size="9.15" text-anchor="middle" fill="#111" stroke="#111" stroke-width="0.45" >Capacity / mAh</text>
<text transform="translate(346.8,110) rotate(-90)" font-size="9.5" text-anchor="middle" fill="#111" stroke="#111" stroke-width="0.45">Potential V vs. Zn<tspan font-size="6.2" dy="2.7">2+</tspan><tspan dy="-2.7">/Zn</tspan></text>
<text x="323.40" y="12.70" font-size="17.80" text-anchor="start" fill="#111" stroke="#111" stroke-width="0.45" letter-spacing="0.3">(b)</text>
<rect x="53.50" y="264.80" width="265.70" height="202.90" fill="none" stroke="#6e6e6e" stroke-width="1.30"/>
<polyline points="80.07,321.61 186.35,286.44 292.63,283.06" fill="none" stroke="#5ebdf8" stroke-width="1.35"/>
<polyline points="80.07,423.06 186.35,448.42 292.63,454.51" fill="none" stroke="#f1c86f" stroke-width="1.4"/>
<rect x="77.27" y="318.81" width="5.6" height="5.6" fill="#3cb0f6"/>
<rect x="183.55" y="283.64" width="5.6" height="5.6" fill="#3cb0f6"/>
<rect x="289.83" y="280.26" width="5.6" height="5.6" fill="#3cb0f6"/>
<rect x="77.27" y="420.26" width="5.6" height="5.6" fill="#ecbb55"/>
<rect x="183.55" y="445.62" width="5.6" height="5.6" fill="#ecbb55"/>
<rect x="289.83" y="451.71" width="5.6" height="5.6" fill="#ecbb55"/>
<line x1="50.10" y1="467.70" x2="53.50" y2="467.70" stroke="#6e6e6e" stroke-width="1.00"/>
<text x="47.40" y="471.20" font-size="10.00" text-anchor="end" fill="#111" stroke="#111" stroke-width="0.45" >0</text>
<line x1="50.10" y1="400.07" x2="53.50" y2="400.07" stroke="#6e6e6e" stroke-width="1.00"/>
<text x="47.40" y="403.57" font-size="10.00" text-anchor="end" fill="#111" stroke="#111" stroke-width="0.45" >10</text>
<line x1="50.10" y1="332.43" x2="53.50" y2="332.43" stroke="#6e6e6e" stroke-width="1.00"/>
<text x="47.40" y="335.93" font-size="10.00" text-anchor="end" fill="#111" stroke="#111" stroke-width="0.45" >20</text>
<line x1="50.10" y1="264.80" x2="53.50" y2="264.80" stroke="#6e6e6e" stroke-width="1.00"/>
<text x="47.40" y="268.30" font-size="10.00" text-anchor="end" fill="#111" stroke="#111" stroke-width="0.45" >30</text>
<line x1="51.50" y1="433.88" x2="53.50" y2="433.88" stroke="#6e6e6e" stroke-width="1.00"/>
<line x1="51.50" y1="366.25" x2="53.50" y2="366.25" stroke="#6e6e6e" stroke-width="1.00"/>
<line x1="51.50" y1="298.62" x2="53.50" y2="298.62" stroke="#6e6e6e" stroke-width="1.00"/>
<line x1="80.07" y1="467.70" x2="80.07" y2="471.30" stroke="#6e6e6e" stroke-width="1.00"/>
<text x="80.07" y="481.70" font-size="10.00" text-anchor="middle" fill="#111" stroke="#111" stroke-width="0.45" >1</text>
<line x1="186.35" y1="467.70" x2="186.35" y2="471.30" stroke="#6e6e6e" stroke-width="1.00"/>
<text x="186.35" y="481.70" font-size="10.00" text-anchor="middle" fill="#111" stroke="#111" stroke-width="0.45" >2</text>
<line x1="292.63" y1="467.70" x2="292.63" y2="471.30" stroke="#6e6e6e" stroke-width="1.00"/>
<text x="292.63" y="481.70" font-size="10.00" text-anchor="middle" fill="#111" stroke="#111" stroke-width="0.45" >3</text>
<line x1="133.21" y1="467.70" x2="133.21" y2="469.70" stroke="#6e6e6e" stroke-width="1.00"/>
<line x1="239.49" y1="467.70" x2="239.49" y2="469.70" stroke="#6e6e6e" stroke-width="1.00"/>
<line x1="69.20" y1="364.40" x2="90.00" y2="364.40" stroke="#f1c86f" stroke-width="1.30"/>
<rect x="76.90" y="361.70" width="5.4" height="5.4" fill="#ecbb55"/>
<text transform="translate(94.20,367.60) scale(1,1.060)" font-size="8.05" text-anchor="start" fill="#111" stroke="#111" stroke-width="0.45" >3.0 M MgCl<tspan font-size="5.50" dy="2.00">2</tspan><tspan font-size="8.05" dy="-2.00"> + 0.03 M LiCl/NaCl/KCl/CaCl</tspan><tspan font-size="5.50" dy="2.00">2</tspan></text>
<line x1="69.20" y1="377.70" x2="90.00" y2="377.70" stroke="#5ebdf8" stroke-width="1.50"/>
<rect x="76.90" y="375.00" width="5.4" height="5.4" fill="#3cb0f6"/>
<text transform="translate(94.20,380.90) scale(1,1.060)" font-size="8.05" text-anchor="start" fill="#111" stroke="#111" stroke-width="0.45" >4.0 M ZnCl<tspan font-size="5.50" dy="2.00">2</tspan></text>
<text x="186.35" y="491.30" font-size="10.00" text-anchor="middle" fill="#111" stroke="#111" stroke-width="0.45" >Cycles</text>
<text transform="translate(33.40,366.00) rotate(-90)" font-size="9.8" text-anchor="middle" fill="#111" stroke="#111" stroke-width="0.45">Li<tspan font-size="6.5" dy="-4">+</tspan><tspan dy="4"> concentration / mM</tspan></text>
<text x="1.20" y="270.40" font-size="17.80" text-anchor="start" fill="#111" stroke="#111" stroke-width="0.45" letter-spacing="1">(c)</text>
<rect x="369.40" y="264.30" width="265.40" height="202.60" fill="none" stroke="#6e6e6e" stroke-width="1.30"/>
<polyline points="395.94,289.96 502.10,265.99 608.26,280.17" fill="none" stroke="#5ebdf8" stroke-width="1.35"/>
<polyline points="395.94,425.37 502.10,451.70 608.26,458.46" fill="none" stroke="#f1c86f" stroke-width="1.4"/>
<rect x="393.14" y="287.16" width="5.6" height="5.6" fill="#3cb0f6"/>
<rect x="499.30" y="263.19" width="5.6" height="5.6" fill="#3cb0f6"/>
<rect x="605.46" y="277.37" width="5.6" height="5.6" fill="#3cb0f6"/>
<rect x="393.14" y="422.57" width="5.6" height="5.6" fill="#ecbb55"/>
<rect x="499.30" y="448.90" width="5.6" height="5.6" fill="#ecbb55"/>
<rect x="605.46" y="455.66" width="5.6" height="5.6" fill="#ecbb55"/>
<line x1="366.00" y1="466.90" x2="369.40" y2="466.90" stroke="#6e6e6e" stroke-width="1.00"/>
<text x="363.30" y="470.40" font-size="10.00" text-anchor="end" fill="#111" stroke="#111" stroke-width="0.45" >0</text>
<line x1="366.00" y1="399.37" x2="369.40" y2="399.37" stroke="#6e6e6e" stroke-width="1.00"/>
<text x="363.30" y="402.87" font-size="10.00" text-anchor="end" fill="#111" stroke="#111" stroke-width="0.45" >10</text>
<line x1="366.00" y1="331.83" x2="369.40" y2="331.83" stroke="#6e6e6e" stroke-width="1.00"/>
<text x="363.30" y="335.33" font-size="10.00" text-anchor="end" fill="#111" stroke="#111" stroke-width="0.45" >20</text>
<line x1="366.00" y1="264.30" x2="369.40" y2="264.30" stroke="#6e6e6e" stroke-width="1.00"/>
<text x="363.30" y="267.80" font-size="10.00" text-anchor="end" fill="#111" stroke="#111" stroke-width="0.45" >30</text>
<line x1="367.40" y1="433.13" x2="369.40" y2="433.13" stroke="#6e6e6e" stroke-width="1.00"/>
<line x1="367.40" y1="365.60" x2="369.40" y2="365.60" stroke="#6e6e6e" stroke-width="1.00"/>
<line x1="367.40" y1="298.07" x2="369.40" y2="298.07" stroke="#6e6e6e" stroke-width="1.00"/>
<line x1="395.94" y1="466.90" x2="395.94" y2="470.50" stroke="#6e6e6e" stroke-width="1.00"/>
<text x="395.94" y="480.90" font-size="10.00" text-anchor="middle" fill="#111" stroke="#111" stroke-width="0.45" >1</text>
<line x1="502.10" y1="466.90" x2="502.10" y2="470.50" stroke="#6e6e6e" stroke-width="1.00"/>
<text x="502.10" y="480.90" font-size="10.00" text-anchor="middle" fill="#111" stroke="#111" stroke-width="0.45" >2</text>
<line x1="608.26" y1="466.90" x2="608.26" y2="470.50" stroke="#6e6e6e" stroke-width="1.00"/>
<text x="608.26" y="480.90" font-size="10.00" text-anchor="middle" fill="#111" stroke="#111" stroke-width="0.45" >3</text>
<line x1="449.02" y1="466.90" x2="449.02" y2="468.90" stroke="#6e6e6e" stroke-width="1.00"/>
<line x1="555.18" y1="466.90" x2="555.18" y2="468.90" stroke="#6e6e6e" stroke-width="1.00"/>
<line x1="378.80" y1="363.30" x2="399.60" y2="363.30" stroke="#f1c86f" stroke-width="1.30"/>
<rect x="386.50" y="360.60" width="5.4" height="5.4" fill="#ecbb55"/>
<text transform="translate(403.80,366.50) scale(1,1.060)" font-size="8.05" text-anchor="start" fill="#111" stroke="#111" stroke-width="0.45" >0.03 M MgCl<tspan font-size="5.50" dy="2.00">2</tspan><tspan font-size="8.05" dy="-2.00"> + 0.03 M LiCl/NaCl/KCl/CaCl</tspan><tspan font-size="5.50" dy="2.00">2</tspan></text>
<line x1="378.80" y1="376.60" x2="399.60" y2="376.60" stroke="#5ebdf8" stroke-width="1.50"/>
<rect x="386.50" y="373.90" width="5.4" height="5.4" fill="#3cb0f6"/>
<text transform="translate(403.80,379.80) scale(1,1.060)" font-size="8.05" text-anchor="start" fill="#111" stroke="#111" stroke-width="0.45" >4.0 M ZnCl<tspan font-size="5.50" dy="2.00">2</tspan></text>
<text x="502.10" y="490.50" font-size="10.00" text-anchor="middle" fill="#111" stroke="#111" stroke-width="0.45" >Cycles</text>
<text transform="translate(349.80,365.50) rotate(-90)" font-size="9.8" text-anchor="middle" fill="#111" stroke="#111" stroke-width="0.45">Li<tspan font-size="6.5" dy="-4">+</tspan><tspan dy="4"> concentration / mM</tspan></text>
<text x="324.00" y="267.90" font-size="17.80" text-anchor="start" fill="#111" stroke="#111" stroke-width="0.45" letter-spacing="1">(d)</text>
</svg></div>
</body></html>
